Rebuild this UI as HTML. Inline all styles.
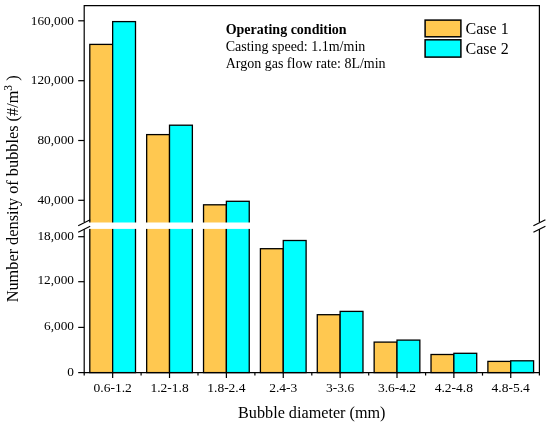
<!DOCTYPE html>
<html><head><meta charset="utf-8"><title>Bubble number density</title>
<style>html,body{margin:0;padding:0;background:#fff}body{width:550px;height:426px;overflow:hidden}</style></head>
<body>
<svg width="550" height="426" viewBox="0 0 550 426" style="display:block">
<rect width="550" height="426" fill="#fff"/>
<g stroke="#000" stroke-width="1.3" stroke-linejoin="miter">
<rect x="89.80" y="44.40" width="22.85" height="328.20" fill="#FFC850"/>
<rect x="112.65" y="21.60" width="22.85" height="351.00" fill="#00FFFF"/>
<rect x="146.67" y="134.60" width="22.85" height="238.00" fill="#FFC850"/>
<rect x="169.52" y="125.20" width="22.85" height="247.40" fill="#00FFFF"/>
<rect x="203.54" y="204.80" width="22.85" height="167.80" fill="#FFC850"/>
<rect x="226.39" y="201.30" width="22.85" height="171.30" fill="#00FFFF"/>
<rect x="260.41" y="248.70" width="22.85" height="123.90" fill="#FFC850"/>
<rect x="283.26" y="240.50" width="22.85" height="132.10" fill="#00FFFF"/>
<rect x="317.28" y="314.70" width="22.85" height="57.90" fill="#FFC850"/>
<rect x="340.13" y="311.40" width="22.85" height="61.20" fill="#00FFFF"/>
<rect x="374.15" y="342.10" width="22.85" height="30.50" fill="#FFC850"/>
<rect x="397.00" y="340.10" width="22.85" height="32.50" fill="#00FFFF"/>
<rect x="431.02" y="354.50" width="22.85" height="18.10" fill="#FFC850"/>
<rect x="453.87" y="353.30" width="22.85" height="19.30" fill="#00FFFF"/>
<rect x="487.89" y="361.40" width="22.85" height="11.20" fill="#FFC850"/>
<rect x="510.74" y="360.80" width="22.85" height="11.80" fill="#00FFFF"/>
</g>
<rect x="84.90" y="222.5" width="453.80" height="6.40" fill="#fff"/>
<g stroke="#000" stroke-width="1.2" fill="none" stroke-linecap="butt">
<path d="M84.2 221.9V5.6H539.4V221.9M84.2 229V372.6H539.4V229"/>
<path d="M78.2 225.7L90.2 219.7"/>
<path d="M78.2 232.2L90.2 226.2"/>
<path d="M533.4 225.7L545.4 219.7"/>
<path d="M533.4 232.2L545.4 226.2"/>
<path d="M84.2 20.8H78.2"/>
<path d="M84.2 80.7H78.2"/>
<path d="M84.2 140.5H78.2"/>
<path d="M84.2 200.3H78.2"/>
<path d="M84.2 236.7H78.2"/>
<path d="M84.2 281.7H78.2"/>
<path d="M84.2 327.4H78.2"/>
<path d="M84.2 372.6H78.2"/>
<path d="M112.65 372.6V378.0"/>
<path d="M141.10 372.6V375.6"/>
<path d="M169.52 372.6V378.0"/>
<path d="M198.00 372.6V375.6"/>
<path d="M226.39 372.6V378.0"/>
<path d="M254.90 372.6V375.6"/>
<path d="M283.26 372.6V378.0"/>
<path d="M311.80 372.6V375.6"/>
<path d="M340.13 372.6V378.0"/>
<path d="M368.70 372.6V375.6"/>
<path d="M397.00 372.6V378.0"/>
<path d="M425.60 372.6V375.6"/>
<path d="M453.87 372.6V378.0"/>
<path d="M482.50 372.6V375.6"/>
<path d="M510.74 372.6V378.0"/>
<path d="M539.40 372.6V375.6"/>
<path d="M84.2 372.6V375.6"/>
</g>
<g font-family="'Liberation Serif', serif" fill="#000">
<g font-size="13.3" text-anchor="end">
<text x="74.0" y="24.5">160,000</text>
<text x="74.0" y="84.2">120,000</text>
<text x="74.0" y="144.0">80,000</text>
<text x="74.0" y="203.8">40,000</text>
<text x="74.0" y="239.5">18,000</text>
<text x="74.0" y="284.4">12,000</text>
<text x="74.0" y="330.2">6,000</text>
<text x="74.0" y="376.1">0</text>
</g>
<g font-size="13.5" text-anchor="middle">
<text x="112.65" y="392.4">0.6-1.2</text>
<text x="169.52" y="392.4">1.2-1.8</text>
<text x="226.39" y="392.4">1.8-2.4</text>
<text x="283.26" y="392.4">2.4-3</text>
<text x="340.13" y="392.4">3-3.6</text>
<text x="397.00" y="392.4">3.6-4.2</text>
<text x="453.87" y="392.4">4.2-4.8</text>
<text x="510.74" y="392.4">4.8-5.4</text>
</g>
<text x="311.8" y="417.6" font-size="16.2" text-anchor="middle">Bubble diameter (mm)</text>
<text transform="translate(18.3,302.3) rotate(-90)" font-size="16.3">Number density of bubbles (#/m<tspan font-size="11.5" dy="-6.6">3</tspan><tspan dy="6.6"> )</tspan></text>
<text x="225.7" y="33.5" font-size="14" font-weight="bold">Operating condition</text>
<text x="225.7" y="50.8" font-size="14">Casting speed: 1.1m/min</text>
<text x="225.7" y="68.2" font-size="14">Argon gas flow rate: 8L/min</text>
<text x="465.6" y="33.8" font-size="16">Case 1</text>
<text x="465.6" y="54" font-size="16">Case 2</text>
</g>
<rect x="425.1" y="20.1" width="35.8" height="16.7" fill="#FFC850" stroke="#000" stroke-width="1.5"/>
<rect x="425.1" y="39.8" width="35.8" height="17.3" fill="#00FFFF" stroke="#000" stroke-width="1.5"/>
</svg>
</body></html>
